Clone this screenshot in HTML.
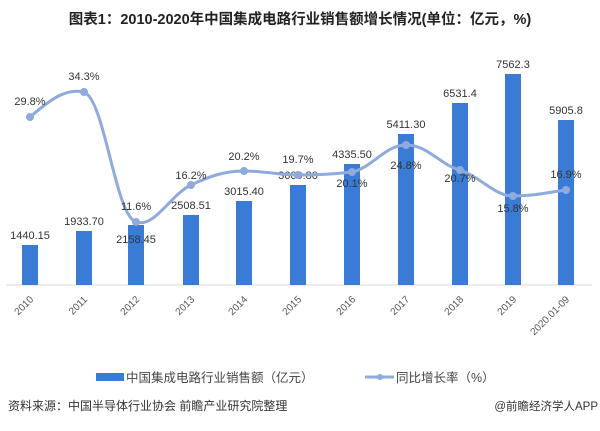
<!DOCTYPE html>
<html><head><meta charset="utf-8"><style>
body{margin:0;background:#fff;width:600px;height:426px;overflow:hidden;font-family:"Liberation Sans","Noto Sans CJK SC",sans-serif;}
</style></head><body>
<svg width="600" height="426" xmlns="http://www.w3.org/2000/svg" font-family="Liberation Sans, Noto Sans CJK SC, sans-serif">
<text x="300" y="24" text-anchor="middle" font-size="14.5" font-weight="bold" fill="#222">图表1：2010-2020年中国集成电路行业销售额增长情况(单位：亿元，%)</text>
<line x1="6" y1="285" x2="592" y2="285" stroke="#d9d9d9" stroke-width="1"/>
<g fill="#3a7bd5">
<rect x="22" y="245" width="16" height="40"/>
<rect x="76" y="231" width="16" height="54"/>
<rect x="128" y="225" width="16" height="60"/>
<rect x="183" y="215" width="16" height="70"/>
<rect x="236" y="201" width="16" height="84"/>
<rect x="290" y="185" width="16" height="100"/>
<rect x="344" y="164" width="16" height="121"/>
<rect x="398" y="134" width="16" height="151"/>
<rect x="452" y="103" width="16" height="182"/>
<rect x="505" y="74" width="16" height="211"/>
<rect x="558" y="120" width="16" height="165"/>
</g>
<g font-size="11" fill="#333" text-anchor="middle">
<text x="30" y="239">1440.15</text>
<text x="84" y="225">1933.70</text>
<text x="136" y="243">2158.45</text>
<text x="191" y="209">2508.51</text>
<text x="244" y="195">3015.40</text>
<text x="298" y="179">3609.80</text>
<text x="352" y="158">4335.50</text>
<text x="406" y="128">5411.30</text>
<text x="460" y="97">6531.4</text>
<text x="513" y="68">7562.3</text>
<text x="566" y="114">5905.8</text>
</g>
<path d="M30,117 C50,100 65,88 84,92 C105,100 115,215 136,222 C155,228 170,195 191,185 C210,176 225,171 244,171 C265,171 280,175 298,175 C318,175 335,174 352,172 C372,168 385,145 406,145 C428,145 440,165 460,170 C482,178 495,196 513,196 C535,196 550,192 566,190" fill="none" stroke="#8faadc" stroke-width="3"/>
<g fill="#8faadc">
<circle cx="30" cy="117" r="4"/><circle cx="84" cy="92" r="4"/><circle cx="136" cy="222" r="4"/><circle cx="191" cy="185" r="4"/><circle cx="244" cy="171" r="4"/><circle cx="298" cy="175" r="4"/><circle cx="352" cy="172" r="4"/><circle cx="406" cy="145" r="4"/><circle cx="460" cy="170" r="4"/><circle cx="513" cy="196" r="4"/><circle cx="566" cy="190" r="4"/>
</g>
<g font-size="11" fill="#333" text-anchor="middle">
<text x="30" y="105">29.8%</text>
<text x="84" y="80">34.3%</text>
<text x="136" y="210">11.6%</text>
<text x="191" y="179">16.2%</text>
<text x="244" y="160">20.2%</text>
<text x="298" y="163">19.7%</text>
<text x="352" y="187">20.1%</text>
<text x="406" y="169">24.8%</text>
<text x="460" y="182">20.7%</text>
<text x="513" y="212">15.8%</text>
<text x="566" y="178">16.9%</text>
</g>
<g font-size="10" fill="#555" text-anchor="end">
<text transform="translate(34,300) rotate(-45)">2010</text>
<text transform="translate(88,300) rotate(-45)">2011</text>
<text transform="translate(140,300) rotate(-45)">2012</text>
<text transform="translate(195,300) rotate(-45)">2013</text>
<text transform="translate(248,300) rotate(-45)">2014</text>
<text transform="translate(302,300) rotate(-45)">2015</text>
<text transform="translate(356,300) rotate(-45)">2016</text>
<text transform="translate(410,300) rotate(-45)">2017</text>
<text transform="translate(464,300) rotate(-45)">2018</text>
<text transform="translate(517,300) rotate(-45)">2019</text>
<text transform="translate(570,300) rotate(-45)">2020.01-09</text>
</g>
<rect x="96" y="373" width="28" height="8" fill="#3a7bd5"/>
<text x="126" y="382" font-size="12.5" fill="#444">中国集成电路行业销售额（亿元）</text>
<line x1="365" y1="377" x2="394" y2="377" stroke="#8faadc" stroke-width="3"/>
<circle cx="380" cy="377" r="3" fill="#8faadc"/>
<text x="396" y="382" font-size="12.5" fill="#444">同比增长率（%）</text>
<text x="8" y="410" font-size="12" fill="#333">资料来源：中国半导体行业协会 前瞻产业研究院整理</text>
<text x="598" y="410" font-size="11.5" fill="#333" text-anchor="end">@前瞻经济学人APP</text>
</svg>
</body></html>
